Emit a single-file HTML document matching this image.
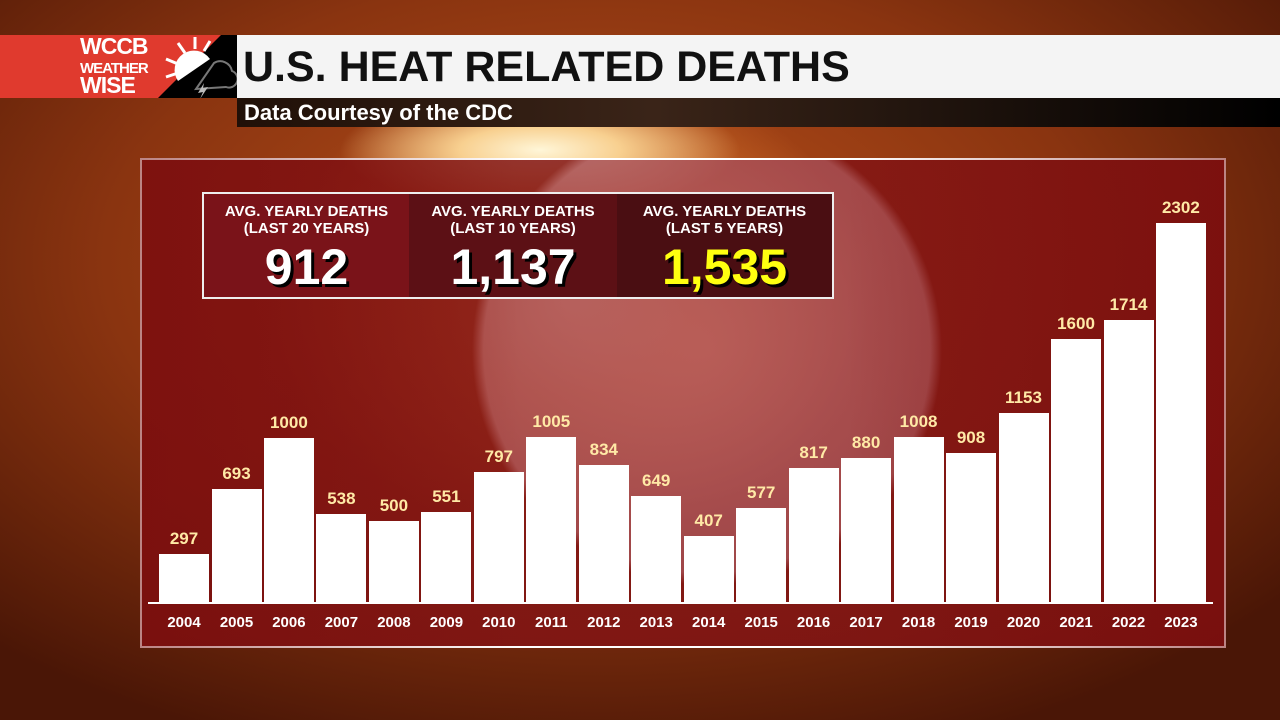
<!DOCTYPE html>
<html><head><meta charset="utf-8"><style>
*{margin:0;padding:0;box-sizing:border-box}
body{width:1280px;height:720px;overflow:hidden;position:relative;font-family:"Liberation Sans",sans-serif;font-weight:bold;
background:radial-gradient(ellipse 200px 60px at 540px 150px,#fff6d8 0%,#f8d090 40%,rgba(230,140,60,0) 100%),
radial-gradient(ellipse 300px 240px at 570px 300px,#f0b070 0%,#d87830 40%,rgba(200,80,20,0) 100%),
radial-gradient(ellipse 900px 520px at 600px 260px,#b8501a 0%,#8a3410 55%,#4a1606 100%);}
.abs{position:absolute}
.panel{left:140px;top:158px;width:1086px;height:490px;border:2px solid #fff;
background:radial-gradient(circle 235px at 565px 190px,rgba(180,90,95,0.85) 0%,rgba(165,75,85,0.82) 95%,rgba(130,20,20,0.85) 100%);}
.panel2{left:140px;top:158px;width:1086px;height:490px;background:linear-gradient(90deg,rgba(120,10,10,0.5),rgba(120,10,10,0) 35%,rgba(120,10,10,0) 65%,rgba(120,10,10,0.5))}
.box{top:192px;height:107px;border:2px solid #eee;color:#fff;text-align:center}
.box .t{font-size:15px;line-height:17px;margin-top:9px}
.box .n{font-size:50px;line-height:52px;margin-top:4px;text-shadow:3px 3px 0 #000}
.bar{background:#fff;width:50px}
.v{color:#ffe9a6;font-size:17px;width:60px;text-align:center}
.y{color:#fff;font-size:15px;width:60px;text-align:center;top:614px}
</style></head><body>
<svg class="abs" style="left:0;top:35px" width="237" height="63">
<rect width="237" height="63" fill="#000"/>
<polygon points="0,0 221,0 158,63 0,63" fill="#e03a2e"/>
<g stroke="#fff" stroke-width="3"><line x1="195" y1="2" x2="195" y2="14"/><line x1="178" y1="8" x2="185" y2="18"/><line x1="166" y1="24" x2="178" y2="29"/><line x1="166" y1="42" x2="178" y2="38"/><line x1="210" y1="6" x2="204" y2="16"/></g>
<path d="M178,46 A18,18 0 0 1 210,24 Z" fill="#fff"/>
<path d="M196,54 L214,28 A12,12 0 0 1 232,36 A8,8 0 0 1 226,52 Z" fill="none" stroke="#777" stroke-width="2"/>
<polygon points="204,48 198,58 203,57 200,64 208,52 203,53" fill="#bbb"/>
</svg>
<div class="abs" style="left:80px;top:37px;color:#fff;font-size:23px;line-height:19px;letter-spacing:-1px">WCCB<br><span style="font-size:15px;line-height:14px">WEATHER</span><br>WISE</div>
<div class="abs" style="left:237px;top:35px;width:1043px;height:63px;background:#f4f4f4;color:#111;font-size:43px;line-height:65px;padding-left:6px">U.S. HEAT RELATED DEATHS</div>
<div class="abs" style="left:237px;top:98px;width:1043px;height:29px;background:linear-gradient(90deg,#201008,#3a2418 40%,#000);color:#fff;font-size:22px;line-height:29px;padding-left:7px">Data Courtesy of the CDC</div>
<div class="abs panel"></div><div class="abs panel2"></div>
<div class="abs box" style="left:202px;width:209px;background:#7a1319"><div class="t">AVG. YEARLY DEATHS<br>(LAST 20 YEARS)</div><div class="n">912</div></div>
<div class="abs box" style="left:409px;width:210px;background:#5c1015;border-left:none"><div class="t">AVG. YEARLY DEATHS<br>(LAST 10 YEARS)</div><div class="n">1,137</div></div>
<div class="abs box" style="left:617px;width:217px;background:#4a0e12;border-left:none"><div class="t">AVG. YEARLY DEATHS<br>(LAST 5 YEARS)</div><div class="n" style="color:#ffff10">1,535</div></div>
<div class="abs" style="left:148px;top:602px;width:1065px;height:2px;background:#fff"></div>
<div id="c"></div>
<script>
var d=[297,693,1000,538,500,551,797,1005,834,649,407,577,817,880,1008,908,1153,1600,1714,2302],h='';
d.forEach(function(v,i){var x=159+i*52.47,ht=v*0.165,t=603-ht;
h+='<div class="abs bar" style="left:'+x.toFixed(1)+'px;top:'+t.toFixed(1)+'px;height:'+ht.toFixed(1)+'px"></div>';
h+='<div class="abs v" style="left:'+(x-5).toFixed(1)+'px;top:'+(t-25).toFixed(1)+'px">'+v+'</div>';
h+='<div class="abs y" style="left:'+(x-5).toFixed(1)+'px">'+(2004+i)+'</div>';});
document.getElementById('c').innerHTML=h;
</script>
</body></html>
